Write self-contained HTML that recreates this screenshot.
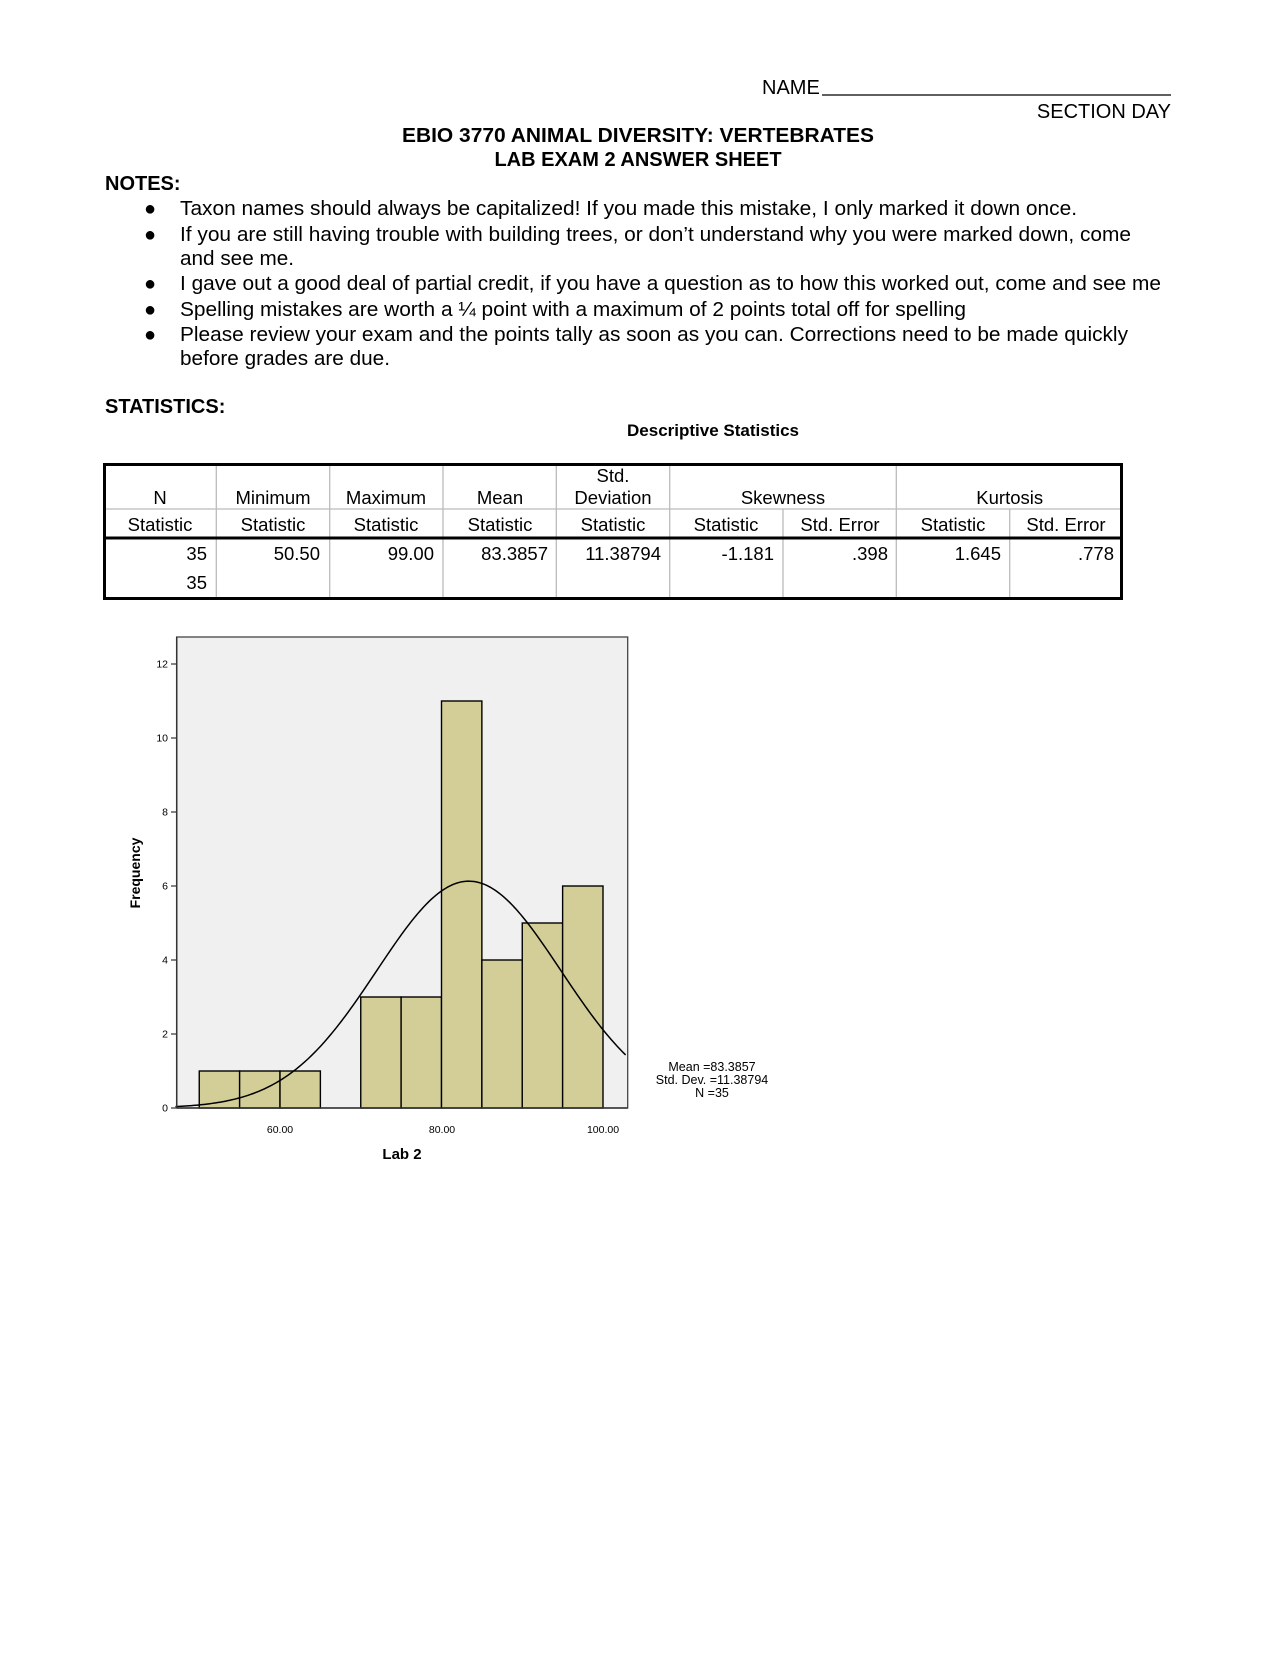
<!DOCTYPE html>
<html><head><meta charset="utf-8"><style>
html,body{margin:0;padding:0;background:#fff;}
svg{display:block;}
text{font-family:"Liberation Sans",Arial,sans-serif;fill:#000;}
</style></head><body>
<svg width="1280" height="1656" viewBox="0 0 1280 1656" xmlns="http://www.w3.org/2000/svg">
<!-- header -->
<text x="762" y="94" font-size="20">NAME</text>
<line x1="822" y1="95" x2="1171" y2="95" stroke="#000" stroke-width="1.2"/>
<text x="1171" y="118" font-size="20" text-anchor="end">SECTION DAY</text>
<text x="638" y="142" font-size="20" font-weight="bold" text-anchor="middle" textLength="472" lengthAdjust="spacingAndGlyphs">EBIO 3770 ANIMAL DIVERSITY: VERTEBRATES</text>
<text x="638" y="166" font-size="20" font-weight="bold" text-anchor="middle">LAB EXAM 2 ANSWER SHEET</text>
<text x="105" y="190" font-size="20" font-weight="bold">NOTES:</text>
<g font-size="20">
<text x="144" y="215">●</text>
<text x="180" y="215" textLength="897" lengthAdjust="spacingAndGlyphs">Taxon names should always be capitalized! If you made this mistake, I only marked it down once.</text>
<text x="144" y="241">●</text>
<text x="180" y="241" textLength="951" lengthAdjust="spacingAndGlyphs">If you are still having trouble with building trees, or don’t understand why you were marked down, come</text>
<text x="180" y="265" textLength="114" lengthAdjust="spacingAndGlyphs">and see me.</text>
<text x="144" y="290">●</text>
<text x="180" y="290" textLength="981" lengthAdjust="spacingAndGlyphs">I gave out a good deal of partial credit, if you have a question as to how this worked out, come and see me</text>
<text x="144" y="316">●</text>
<text x="180" y="316" textLength="786" lengthAdjust="spacingAndGlyphs">Spelling mistakes are worth a ¼ point with a maximum of 2 points total off for spelling</text>
<text x="144" y="341">●</text>
<text x="180" y="341" textLength="948" lengthAdjust="spacingAndGlyphs">Please review your exam and the points tally as soon as you can. Corrections need to be made quickly</text>
<text x="180" y="365" textLength="210" lengthAdjust="spacingAndGlyphs">before grades are due.</text>
</g>
<text x="105" y="413" font-size="20" font-weight="bold">STATISTICS:</text>
<text x="713" y="436" font-size="17" font-weight="bold" text-anchor="middle">Descriptive Statistics</text>

<!-- table -->
<g stroke="#bbb" stroke-width="1.3">
<line x1="216.3" y1="463" x2="216.3" y2="600"/>
<line x1="329.7" y1="463" x2="329.7" y2="600"/>
<line x1="443" y1="463" x2="443" y2="600"/>
<line x1="556.3" y1="463" x2="556.3" y2="600"/>
<line x1="669.7" y1="463" x2="669.7" y2="600"/>
<line x1="783" y1="509" x2="783" y2="600"/>
<line x1="896.3" y1="463" x2="896.3" y2="600"/>
<line x1="1009.7" y1="509" x2="1009.7" y2="600"/>
<line x1="103" y1="509" x2="1123" y2="509"/>
</g>
<rect x="104.5" y="464.5" width="1017" height="134" fill="none" stroke="#000" stroke-width="3"/>
<line x1="103" y1="538" x2="1123" y2="538" stroke="#000" stroke-width="3"/>
<g font-size="18.5" text-anchor="middle">
<text x="613" y="482">Std.</text>
<text x="160" y="504">N</text>
<text x="273" y="504">Minimum</text>
<text x="386" y="504">Maximum</text>
<text x="500" y="504">Mean</text>
<text x="613" y="504">Deviation</text>
<text x="783" y="504">Skewness</text>
<text x="1009.7" y="504">Kurtosis</text>
<text x="160" y="531">Statistic</text>
<text x="273" y="531">Statistic</text>
<text x="386" y="531">Statistic</text>
<text x="500" y="531">Statistic</text>
<text x="613" y="531">Statistic</text>
<text x="726" y="531">Statistic</text>
<text x="840" y="531">Std. Error</text>
<text x="953" y="531">Statistic</text>
<text x="1066" y="531">Std. Error</text>
</g>
<g font-size="18.5" text-anchor="end">
<text x="207" y="560">35</text>
<text x="207" y="589">35</text>
<text x="320" y="560">50.50</text>
<text x="434" y="560">99.00</text>
<text x="548" y="560">83.3857</text>
<text x="661" y="560">11.38794</text>
<text x="774" y="560">-1.181</text>
<text x="888" y="560">.398</text>
<text x="1001" y="560">1.645</text>
<text x="1114" y="560">.778</text>
</g>

<!-- chart -->
<rect x="176.7" y="637" width="451" height="471" fill="#f0f0f0" stroke="#444" stroke-width="1.3"/>
<g id="bars" fill="#d3ce97" stroke="#000" stroke-width="1.4"></g>
<path id="curve" fill="none" stroke="#000" stroke-width="1.5"/>
<line x1="176.7" y1="637" x2="176.7" y2="1108" stroke="#333" stroke-width="1.5"/>
<line x1="176.7" y1="1108" x2="627.7" y2="1108" stroke="#333" stroke-width="1.5"/>
<g id="yt" stroke="#333" stroke-width="1.2"></g>
<g font-size="10.5" fill="#333" text-anchor="end" id="ylab"></g>
<g font-size="10.5" text-anchor="middle" fill="#333">
<text x="280" y="1133">60.00</text>
<text x="442" y="1133">80.00</text>
<text x="603" y="1133">100.00</text>
</g>
<text x="402" y="1159" font-size="15" font-weight="bold" text-anchor="middle">Lab 2</text>
<text transform="translate(140,873) rotate(-90)" font-size="14" font-weight="bold" text-anchor="middle">Frequency</text>
<g font-size="12.5" text-anchor="middle">
<text x="712" y="1071">Mean =83.3857</text>
<text x="712" y="1084">Std. Dev. =11.38794</text>
<text x="712" y="1097">N =35</text>
</g>
<script>
(function(){
var ns="http://www.w3.org/2000/svg";
function X(v){return 280+(v-60)*8.075;}
function Y(f){return 1108-f*37;}
var counts=[1,1,1,0,3,3,11,4,5,6];
var g=document.getElementById("bars");
for(var i=0;i<10;i++){if(!counts[i])continue;
 var r=document.createElementNS(ns,"rect");
 var x0=X(50+5*i),x1=X(55+5*i);
 r.setAttribute("x",x0);r.setAttribute("width",x1-x0);
 r.setAttribute("y",Y(counts[i]));r.setAttribute("height",Y(0)-Y(counts[i]));
 g.appendChild(r);}
var d="",m=83.3857,s=11.38794;
for(var v=47.05;v<=102.9;v+=0.25){
 var f=175*Math.exp(-0.5*Math.pow((v-m)/s,2))/(s*Math.sqrt(2*Math.PI));
 d+=(d?"L":"M")+X(v).toFixed(2)+","+Y(f).toFixed(2);}
document.getElementById("curve").setAttribute("d",d);
var yt=document.getElementById("yt"),yl=document.getElementById("ylab");
for(var k=0;k<=12;k+=2){
 var l=document.createElementNS(ns,"line");
 l.setAttribute("x1",171);l.setAttribute("x2",176.7);
 l.setAttribute("y1",Y(k));l.setAttribute("y2",Y(k));yt.appendChild(l);
 var t=document.createElementNS(ns,"text");
 t.setAttribute("x",168);t.setAttribute("y",Y(k)+3.7);t.textContent=k;yl.appendChild(t);}
})();
</script>
</svg>
</body></html>
